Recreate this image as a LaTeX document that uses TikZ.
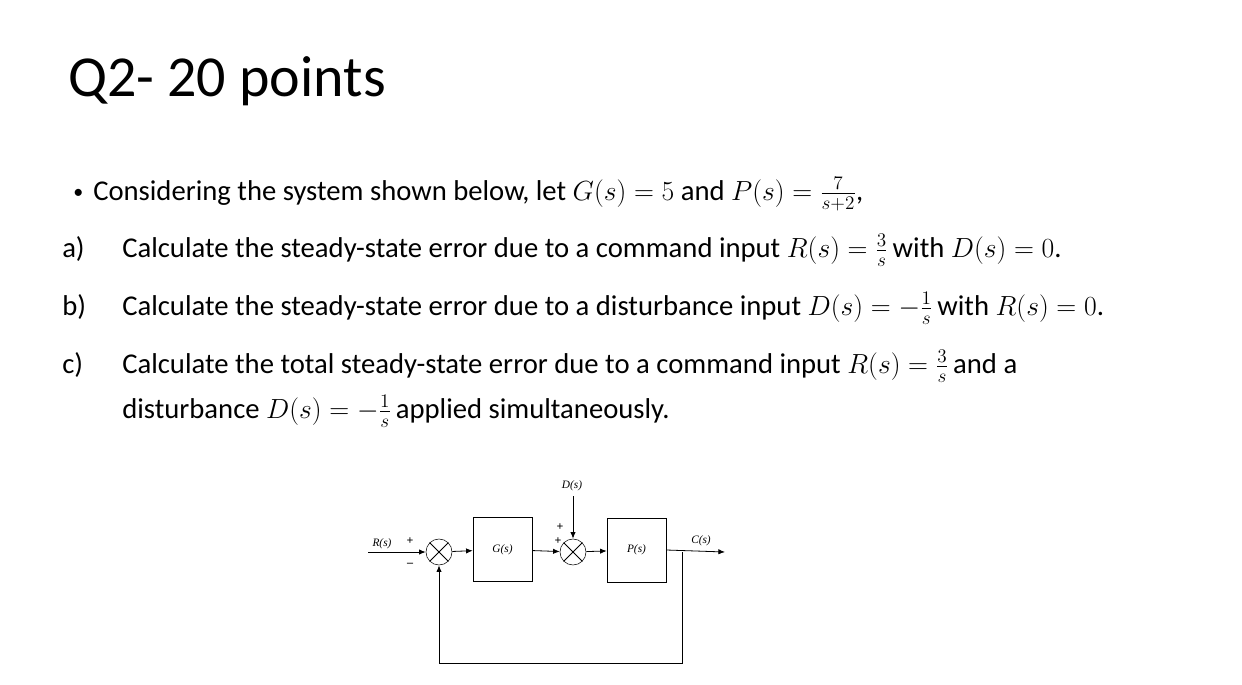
\documentclass[tikz,border=0pt]{standalone}
\usepackage{fontspec}
\setmainfont{Carlito}
\newfontfamily\dfont{Liberation Serif}
\usetikzlibrary{arrows.meta}
\begin{document}
\begin{tikzpicture}[x=0.75pt,y=-0.75pt,
  txt/.style={anchor=base west,inner sep=0pt,font=\fontsize{21.5}{24}\selectfont},
  blk/.style={draw,minimum width=44.25pt,minimum height=48pt,inner sep=0pt,font=\dfont\fontsize{8.5}{10}\selectfont\itshape},
  sumn/.style={draw,circle,minimum size=19.5pt,inner sep=0pt},
  lab/.style={inner sep=0pt,font=\dfont\fontsize{8.5}{10}\selectfont\itshape},
  sg/.style={inner sep=0pt,font=\dfont\fontsize{9}{10}\selectfont\bfseries},
  arr/.style={-{Latex[length=5pt,width=4pt]},line width=0.6pt},
  ln/.style={line width=0.6pt}]
\useasboundingbox (0,0) rectangle (1242,685);
\fill[white] (0,0) rectangle (1242,685);
\node[anchor=base west,inner sep=0pt,font=\fontsize{43.5}{50}\selectfont] (title) at (68,97) {Q2- 20 points};
\node[anchor=base west,inner sep=0pt,font=\fontsize{15}{18}\selectfont] (bul) at (73,198) {•};
\node[txt] (l1) at (93,200) {Considering the system shown below, let $G(s)=5$ and $P(s)=\frac{7}{s+2}$,};
\node[txt] (la) at (62,257) {a)};
\node[txt] (ta) at (122,257) {Calculate the steady-state error due to a command input $R(s)=\frac{3}{s}$\,with $D(s)=0$.};
\node[txt] (lb) at (62,315) {b)};
\node[txt] (tb) at (122,315) {Calculate the steady-state error due to a disturbance input $D(s)=-\frac{1}{s}$\,with $R(s)=0$.};
\node[txt] (lc) at (62,373) {c)};
\node[txt] (tc) at (122,373) {Calculate the total steady-state error due to a command input $R(s)=\frac{3}{s}$\,and a};
\node[txt] (tc2) at (122,418) {disturbance $D(s)=-\frac{1}{s}$\,applied simultaneously.};
% diagram
\node[sumn] (s1) at (439,552) {};
\draw[ln] (s1.north west) -- (s1.south east) (s1.north east) -- (s1.south west);
\node[sumn] (s2) at (573,552) {};
\draw[ln] (s2.north west) -- (s2.south east) (s2.north east) -- (s2.south west);
\node[blk] (G) at (502.5,549.5) {G(s)};
\node[blk] (P) at (636.5,550) {P(s)};
\coordinate (rin) at (368,552);
\coordinate (cout) at (725,552);
\coordinate (br) at (682,552);
\coordinate (bot) at (682,663);
\coordinate (botl) at (439,663);
\coordinate (dtop) at (573,496);
\draw[arr] (rin) -- (s1);
\draw[arr] (s1) -- (G);
\draw[arr] (G) -- (s2);
\draw[arr] (s2) -- (P);
\draw[arr] (P.east) -- (cout);
\draw[arr] (dtop) -- (s2);
\draw[arr] (br) -- (bot) -- (botl) -- (s1);
\node[lab] (R) at (382,544) {R(s)};
\node[lab] (C) at (701,541) {C(s)};
\node[lab] (D) at (572,486) {D(s)};
\node[sg] (p1) at (410,541) {+};
\node[sg] (m1) at (410,565) {\textendash};
\node[sg] (p2) at (560,527) {+};
\node[sg] (p3) at (558,541) {+};
\end{tikzpicture}
\end{document}
